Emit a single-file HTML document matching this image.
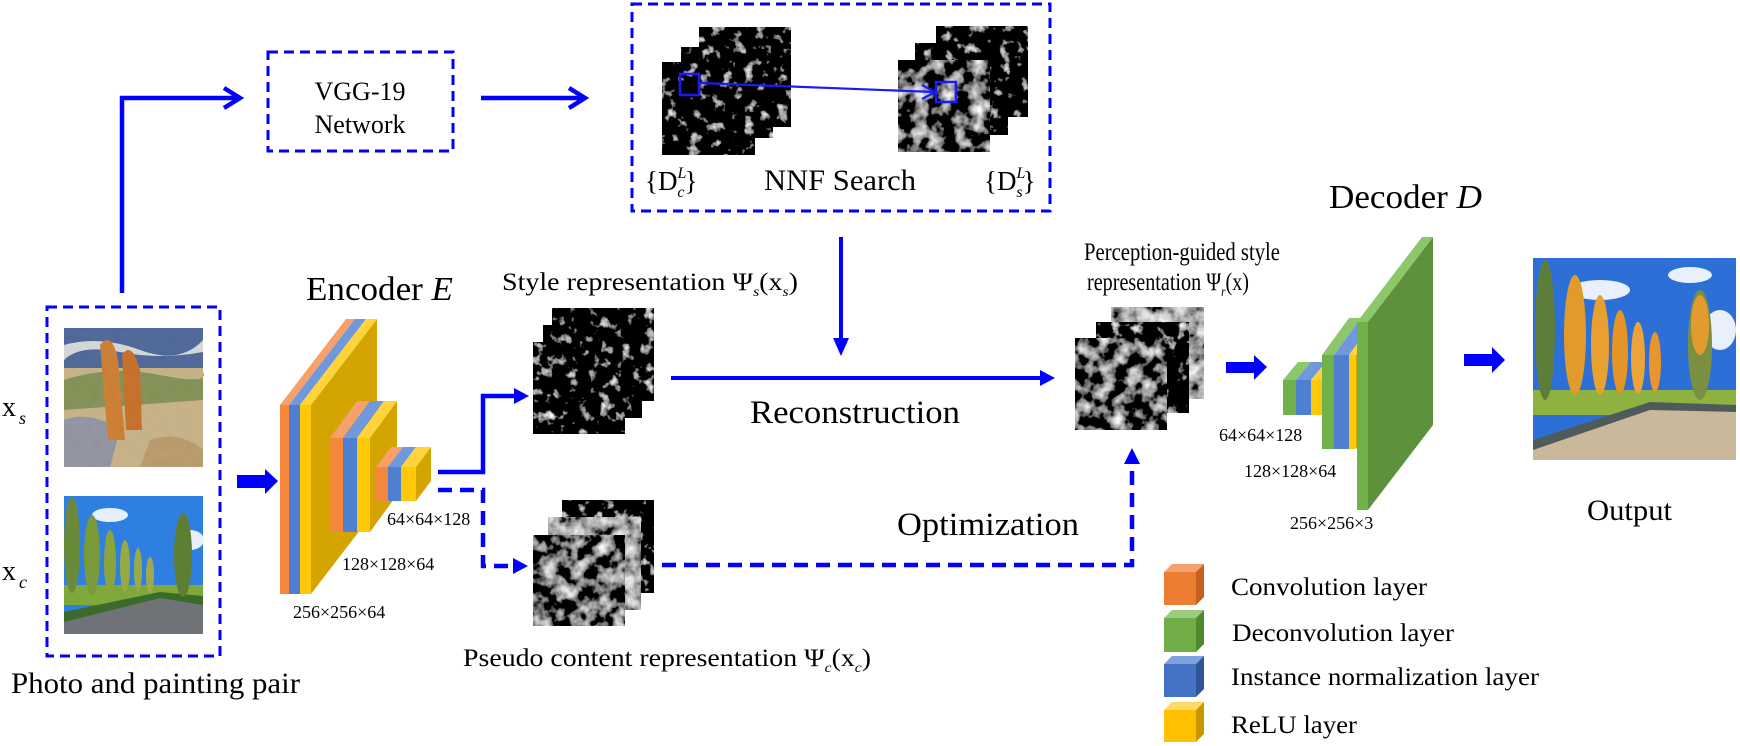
<!DOCTYPE html>
<html><head><meta charset="utf-8"><style>
html,body{margin:0;padding:0;background:#fff;}
svg{display:block;}
text{font-family:"Liberation Serif","DejaVu Serif",serif;fill:#000;}
</style></head><body>
<svg width="1740" height="746" viewBox="0 0 1740 746" xmlns="http://www.w3.org/2000/svg">
<defs>
<filter id="fm" x="0" y="0" width="1" height="1">
<feTurbulence type="fractalNoise" baseFrequency="0.09" numOctaves="3" seed="3"/>
<feColorMatrix type="matrix" values="3 0 0 0 -1.75  3 0 0 0 -1.75  3 0 0 0 -1.75  0 0 0 0 1"/>
</filter>
<filter id="fm2" x="0" y="0" width="1" height="1">
<feTurbulence type="fractalNoise" baseFrequency="0.07" numOctaves="3" seed="9"/>
<feColorMatrix type="matrix" values="2.2 0 0 0 -0.95  2.2 0 0 0 -0.95  2.2 0 0 0 -0.95  0 0 0 0 1"/>
</filter>
<filter id="fm3" x="0" y="0" width="1" height="1">
<feTurbulence type="fractalNoise" baseFrequency="0.08" numOctaves="3" seed="4"/>
<feColorMatrix type="matrix" values="1.6 0 0 0 -0.4  1.6 0 0 0 -0.4  1.6 0 0 0 -0.4  0 0 0 0 1"/>
</filter>
<filter id="tex" x="0" y="0" width="1" height="1">
<feTurbulence type="fractalNoise" baseFrequency="0.12" numOctaves="2" seed="5" result="n"/>
<feColorMatrix in="n" type="matrix" values="0 0 0 0 0  0 0 0 0 0  0 0 0 0 0  0.5 0 0 0 -0.1" result="a"/>
<feComposite in="a" in2="SourceGraphic" operator="atop"/>
</filter>
</defs>

<rect x="268" y="52" width="185" height="99" fill="none" stroke="#0000ff" stroke-width="3" stroke-dasharray="10 6"/>
<text x="360" y="100" font-size="26" text-anchor="middle">VGG-19</text>
<text x="360" y="133" font-size="26" text-anchor="middle">Network</text>

<polyline points="122,293 122,98 238,98" fill="none" stroke="#0000ff" stroke-width="4.5"/>
<polyline points="224,88 240,98 224,108" fill="none" stroke="#0000ff" stroke-width="4.5"/>
<line x1="481" y1="98" x2="583" y2="98" stroke="#0000ff" stroke-width="4.5"/>
<polyline points="569,88 585,98 569,108" fill="none" stroke="#0000ff" stroke-width="4.5"/>

<rect x="632" y="4" width="418" height="207" fill="none" stroke="#0000ff" stroke-width="3" stroke-dasharray="10 6"/>
<rect x="699" y="27" width="92" height="100" fill="#000" filter="url(#fm)"/>
<rect x="681" y="47" width="92" height="91" fill="#000" filter="url(#fm)"/>
<rect x="662" y="62" width="93" height="93" fill="#000" filter="url(#fm)"/>
<rect x="936" y="26" width="92" height="91" fill="#000" filter="url(#fm)"/>
<rect x="915" y="43" width="93" height="92" fill="#000" filter="url(#fm)"/>
<rect x="898" y="60" width="92" height="92" fill="#000" filter="url(#fm2)"/>
<rect x="680" y="74" width="19" height="21" fill="none" stroke="#1a1aff" stroke-width="2.5"/>
<rect x="936" y="82" width="20" height="20" fill="none" stroke="#1a1aff" stroke-width="2.5"/>
<line x1="699" y1="83" x2="934" y2="92" stroke="#1a1aff" stroke-width="2.2"/>
<polyline points="922,85 935,92 922,99" fill="none" stroke="#1a1aff" stroke-width="2.2"/>
<text x="645" y="190" font-size="27">{D<tspan font-size="16" font-style="italic" dy="-12">L</tspan><tspan font-size="16" font-style="italic" dx="-9" dy="19">c</tspan><tspan dy="-7">}</tspan></text>
<text x="764" y="190" font-size="30" textLength="152" lengthAdjust="spacingAndGlyphs">NNF Search</text>
<text x="984" y="190" font-size="27">{D<tspan font-size="16" font-style="italic" dy="-12">L</tspan><tspan font-size="16" font-style="italic" dx="-9" dy="19">s</tspan><tspan dy="-7">}</tspan></text>

<line x1="841" y1="237" x2="841" y2="340" stroke="#0000ff" stroke-width="4"/>
<polygon points="833,338 849,338 841,356" fill="#0000ff"/>

<rect x="47" y="307" width="173" height="349" fill="none" stroke="#0000ff" stroke-width="3" stroke-dasharray="10 6"/>
<g>
<rect x="64" y="328" width="139" height="139" fill="#c9b48a"/>
<rect x="64" y="328" width="139" height="40" fill="#3e5f9e"/>
<path d="M64,345 Q100,335 140,350 T203,340 L203,352 Q160,360 120,352 T64,360Z" fill="#d8e0e8"/>
<path d="M64,380 Q110,365 160,375 T203,372 L203,400 L64,410Z" fill="#7b8f52"/>
<path d="M64,420 Q90,410 120,430 L110,467 L64,467Z" fill="#8c93a8"/>
<path d="M100,345 Q112,330 118,360 L125,440 L108,440 Z" fill="#d07a2a"/>
<path d="M122,355 Q132,340 140,370 L142,430 L126,430 Z" fill="#c8691f"/>
<path d="M150,440 Q180,430 203,450 L203,467 L140,467Z" fill="#b99a6a"/>
<rect x="64" y="328" width="139" height="139" fill="#c9b48a" opacity="0.15" filter="url(#tex)"/>
</g>
<g>
<rect x="64" y="496" width="139" height="138" fill="#2f7fe0"/>
<ellipse cx="110" cy="515" rx="18" ry="7" fill="#e6f0fb"/>
<ellipse cx="190" cy="540" rx="14" ry="10" fill="#e6f0fb"/>
<rect x="64" y="585" width="139" height="20" fill="#7fa83a"/>
<polygon points="64,634 64,620 160,595 203,600 203,634" fill="#6f7378"/>
<polygon points="64,612 160,592 203,596 203,605 160,598 64,622" fill="#3b6b2b"/>
<ellipse cx="72" cy="545" rx="8" ry="48" fill="#6a8a3a"/>
<ellipse cx="92" cy="555" rx="8" ry="40" fill="#7a9a3a"/>
<ellipse cx="110" cy="562" rx="6" ry="32" fill="#8aa43e"/>
<ellipse cx="125" cy="566" rx="5" ry="26" fill="#97aa44"/>
<ellipse cx="138" cy="570" rx="4" ry="22" fill="#9aaa48"/>
<ellipse cx="150" cy="575" rx="4" ry="18" fill="#a0aa4c"/>
<ellipse cx="183" cy="555" rx="9" ry="42" fill="#5e7e34"/>
</g>
<text x="2" y="416" font-size="28">x<tspan font-size="18" font-style="italic" dy="8" dx="3">s</tspan></text>
<text x="2" y="580" font-size="28">x<tspan font-size="18" font-style="italic" dy="8" dx="3">c</tspan></text>
<text x="11" y="693" font-size="30" textLength="289" lengthAdjust="spacingAndGlyphs">Photo and painting pair</text>

<polygon points="237,475 265,475 265,469 278,481 265,494 265,488 237,488" fill="#0000ff"/>

<text x="306" y="300" font-size="34" textLength="147" lengthAdjust="spacingAndGlyphs">Encoder <tspan font-style="italic">E</tspan></text>
<polygon points="311,405 377,319 377,508 311,594" fill="#d4a500"/>
<polygon points="280,405 289,405 355,319 346,319" fill="#f6a06a"/>
<polygon points="289,405 300,405 366,319 355,319" fill="#6f99dc"/>
<polygon points="300,405 311,405 377,319 366,319" fill="#ffd43a"/>
<rect x="280" y="405" width="9" height="189" fill="#f4873a"/>
<rect x="289" y="405" width="11" height="189" fill="#4f7fd0"/>
<rect x="300" y="405" width="11" height="189" fill="#ffc90a"/>
<polygon points="370,438 397,401 397,495 370,532" fill="#d4a500"/>
<polygon points="330,438 343,438 370,401 357,401" fill="#f6a06a"/>
<polygon points="343,438 357,438 384,401 370,401" fill="#6f99dc"/>
<polygon points="357,438 370,438 397,401 384,401" fill="#ffd43a"/>
<rect x="330" y="438" width="13" height="94" fill="#f4873a"/>
<rect x="343" y="438" width="14" height="94" fill="#4f7fd0"/>
<rect x="357" y="438" width="13" height="94" fill="#ffc90a"/>
<polygon points="416,467 431,447 431,481 416,501" fill="#d4a500"/>
<polygon points="376,467 388,467 403,447 391,447" fill="#f6a06a"/>
<polygon points="388,467 401,467 416,447 403,447" fill="#6f99dc"/>
<polygon points="401,467 416,467 431,447 416,447" fill="#ffd43a"/>
<rect x="376" y="467" width="12" height="34" fill="#f4873a"/>
<rect x="388" y="467" width="13" height="34" fill="#4f7fd0"/>
<rect x="401" y="467" width="15" height="34" fill="#ffc90a"/>
<text x="387" y="525" font-size="18">64×64×128</text>
<text x="342" y="570" font-size="18">128×128×64</text>
<text x="293" y="618" font-size="18">256×256×64</text>

<polyline points="438,472 483,472 483,396 516,396" fill="none" stroke="#0000ff" stroke-width="4.5"/>
<polygon points="514,388 529,396 514,404" fill="#0000ff"/>
<polyline points="438,490 483,490 483,566 514,566" fill="none" stroke="#0000ff" stroke-width="4.5" stroke-dasharray="14 8"/>
<polygon points="513,558 528,566 513,574" fill="#0000ff"/>

<rect x="552" y="308" width="102" height="93" fill="#000" filter="url(#fm)"/>
<rect x="543" y="325" width="99" height="93" fill="#000" filter="url(#fm)"/>
<rect x="533" y="342" width="92" height="92" fill="#000" filter="url(#fm)"/>
<text x="502" y="290" font-size="25" textLength="296" lengthAdjust="spacingAndGlyphs">Style representation  Ψ<tspan font-size="14" font-style="italic" dy="6">s</tspan><tspan dy="-6">(x</tspan><tspan font-size="14" font-style="italic" dy="6">s</tspan><tspan dy="-6">)</tspan></text>

<rect x="562" y="500" width="92" height="93" fill="#000" filter="url(#fm)"/>
<rect x="548" y="517" width="93" height="93" fill="#777" filter="url(#fm3)"/>
<rect x="533" y="535" width="92" height="91" fill="#000" filter="url(#fm2)"/>
<text x="463" y="666" font-size="25" textLength="408" lengthAdjust="spacingAndGlyphs">Pseudo content representation  Ψ<tspan font-size="14" font-style="italic" dy="6">c</tspan><tspan dy="-6">(x</tspan><tspan font-size="14" font-style="italic" dy="6">c</tspan><tspan dy="-6">)</tspan></text>

<line x1="671" y1="378" x2="1042" y2="378" stroke="#0000ff" stroke-width="4"/>
<polygon points="1040,370 1055,378 1040,386" fill="#0000ff"/>
<text x="750" y="423" font-size="33" textLength="210" lengthAdjust="spacingAndGlyphs">Reconstruction</text>
<polyline points="662,565 1132,565 1132,462" fill="none" stroke="#0000ff" stroke-width="4.5" stroke-dasharray="14 8"/>
<polygon points="1124,464 1140,464 1132,448" fill="#0000ff"/>
<text x="897" y="535" font-size="33" textLength="182" lengthAdjust="spacingAndGlyphs">Optimization</text>

<rect x="1111" y="307" width="93" height="92" fill="#666" filter="url(#fm3)"/>
<rect x="1096" y="322" width="93" height="91" fill="#000" filter="url(#fm)"/>
<rect x="1075" y="338" width="92" height="92" fill="#333" filter="url(#fm2)"/>
<text x="1084" y="260" font-size="25" textLength="196" lengthAdjust="spacingAndGlyphs">Perception-guided style</text>
<text x="1087" y="290" font-size="25" textLength="162" lengthAdjust="spacingAndGlyphs">representation  Ψ<tspan font-size="14" font-style="italic" dy="6">r</tspan><tspan dy="-6">(x)</tspan></text>

<polygon points="1226,362 1254,362 1254,355 1267,367 1254,380 1254,373 1226,373" fill="#0000ff"/>

<text x="1329" y="208" font-size="34" textLength="153" lengthAdjust="spacingAndGlyphs">Decoder <tspan font-style="italic">D</tspan></text>
<polygon points="1322,380 1337,362 1337,397 1322,415" fill="#d4a500"/>
<polygon points="1283,380 1296,380 1311,362 1298,362" fill="#8cc76a"/>
<polygon points="1296,380 1311,380 1326,362 1311,362" fill="#6f99dc"/>
<polygon points="1311,380 1322,380 1337,362 1326,362" fill="#ffd43a"/>
<rect x="1283" y="380" width="13" height="35" fill="#70b14a"/>
<rect x="1296" y="380" width="15" height="35" fill="#4f7fd0"/>
<rect x="1311" y="380" width="11" height="35" fill="#ffc90a"/>
<polygon points="1356,355 1383,318 1383,412 1356,449" fill="#d4a500"/>
<polygon points="1322,355 1334,355 1361,318 1349,318" fill="#8cc76a"/>
<polygon points="1334,355 1349,355 1376,318 1361,318" fill="#6f99dc"/>
<polygon points="1349,355 1356,355 1383,318 1376,318" fill="#ffd43a"/>
<rect x="1322" y="355" width="12" height="94" fill="#70b14a"/>
<rect x="1334" y="355" width="15" height="94" fill="#4f7fd0"/>
<rect x="1349" y="355" width="7" height="94" fill="#ffc90a"/>
<polygon points="1368,322 1433,237 1433,425 1368,510" fill="#5e913c"/>
<polygon points="1357,322 1368,322 1433,237 1422,237" fill="#8cc76a"/>
<rect x="1357" y="322" width="11" height="188" fill="#70b14a"/>
<text x="1219" y="441" font-size="18">64×64×128</text>
<text x="1244" y="477" font-size="18">128×128×64</text>
<text x="1290" y="529" font-size="18">256×256×3</text>

<polygon points="1464,354 1492,354 1492,347 1505,360 1492,373 1492,366 1464,366" fill="#0000ff"/>

<g>
<rect x="1533" y="258" width="203" height="202" fill="#2c6fd6"/>
<ellipse cx="1600" cy="290" rx="30" ry="10" fill="#e8f0fb"/>
<ellipse cx="1690" cy="275" rx="22" ry="8" fill="#e8f0fb"/>
<ellipse cx="1720" cy="330" rx="16" ry="20" fill="#e8f0fb"/>
<rect x="1533" y="390" width="203" height="25" fill="#8db240"/>
<polygon points="1533,460 1533,440 1650,405 1736,408 1736,460" fill="#c9b89a"/>
<polygon points="1533,440 1650,402 1736,405 1736,412 1650,410 1533,450" fill="#4f5a5a"/>
<ellipse cx="1545" cy="330" rx="10" ry="70" fill="#5d7e3a"/>
<ellipse cx="1575" cy="335" rx="11" ry="60" fill="#e29a2a"/>
<ellipse cx="1600" cy="345" rx="9" ry="50" fill="#e8a030"/>
<ellipse cx="1620" cy="352" rx="8" ry="42" fill="#e59426"/>
<ellipse cx="1638" cy="358" rx="7" ry="36" fill="#eba33a"/>
<ellipse cx="1655" cy="362" rx="6" ry="30" fill="#e8952c"/>
<ellipse cx="1700" cy="345" rx="12" ry="55" fill="#7a9040"/>
<ellipse cx="1700" cy="325" rx="9" ry="30" fill="#e39a2e"/>
</g>
<text x="1587" y="520" font-size="30" textLength="85" lengthAdjust="spacingAndGlyphs">Output</text>

<g>
<polygon points="1164,572 1172,564 1204,564 1196,572" fill="#f4a070"/>
<polygon points="1196,572 1204,564 1204,597 1196,605" fill="#c65f22"/>
<rect x="1164" y="572" width="32" height="33" fill="#ed7d31"/>
<polygon points="1164,618 1172,610 1204,610 1196,618" fill="#9ccd7e"/>
<polygon points="1196,618 1204,610 1204,644 1196,652" fill="#4e8a30"/>
<rect x="1164" y="618" width="32" height="34" fill="#70ad47"/>
<polygon points="1164,664 1172,656 1204,656 1196,664" fill="#7fa2de"/>
<polygon points="1196,664 1204,656 1204,689 1196,697" fill="#2f5597"/>
<rect x="1164" y="664" width="32" height="33" fill="#4472c4"/>
<polygon points="1164,710 1172,702 1204,702 1196,710" fill="#ffd966"/>
<polygon points="1196,710 1204,702 1204,734 1196,742" fill="#c99600"/>
<rect x="1164" y="710" width="32" height="32" fill="#ffc000"/>
<text x="1231" y="595" font-size="25" textLength="196" lengthAdjust="spacingAndGlyphs">Convolution layer</text>
<text x="1232" y="641" font-size="25" textLength="222" lengthAdjust="spacingAndGlyphs">Deconvolution layer</text>
<text x="1231" y="685" font-size="25" textLength="308" lengthAdjust="spacingAndGlyphs">Instance normalization layer</text>
<text x="1231" y="733" font-size="25" textLength="126" lengthAdjust="spacingAndGlyphs">ReLU layer</text>
</g>
</svg>
</body></html>
